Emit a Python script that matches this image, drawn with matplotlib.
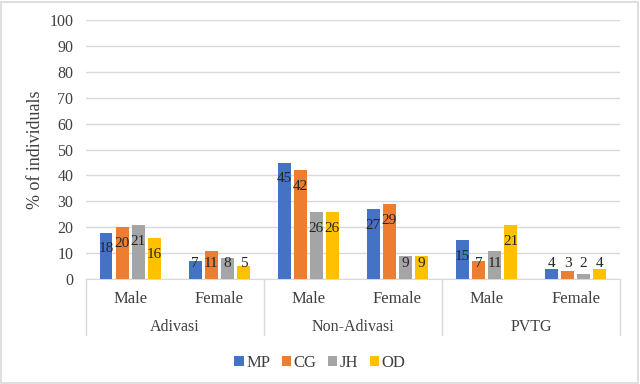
import matplotlib.pyplot as plt
from matplotlib.patches import Rectangle
import numpy as np

plt.rcParams['font.family'] = ['Liberation Serif', 'DejaVu Serif']

groups = ["Adivasi", "Non-Adivasi", "PVTG"]
sexes = ["Male", "Female"]
states = ["MP", "CG", "JH", "OD"]
colors = ["#4472c4", "#ed7d31", "#a5a5a5", "#ffc000"]

mp = [18, 7, 45, 27, 15, 4]
cg = [20, 11, 42, 29, 7, 3]
jh = [21, 8, 26, 9, 11, 2]
od = [16, 5, 26, 9, 21, 4]

##########################################
fig = plt.figure(figsize=(6.4, 3.84), dpi=100)
fig.patches.append(Rectangle((0.002, 0.003), 0.995, 0.993, transform=fig.transFigure,
                             fill=False, edgecolor="#d9d9d9", linewidth=1.2))
ax = fig.add_axes([0.134, 0.273, 0.835, 0.675])

x = np.arange(len(mp))
step = 0.18
width = 0.14
for i, (vals, c, name) in enumerate(zip([mp, cg, jh, od], colors, states)):
    xs = x + (i - 1.5) * step
    ax.bar(xs, vals, width, color=c, label=name, zorder=3)
    # labels sit just inside the bar end, but never lower than ~6
    for xi, v in zip(xs, vals):
        yy = max(v - 6.3, 6)
        ax.text(xi, yy, str(v), ha="center", va="center", fontsize=11,
                color="#262626", zorder=4)

ax.set_xlim(-0.5, len(mp) - 0.5)
ax.set_ylim(0, 100)
ax.set_yticks(range(0, 101, 10))
ax.tick_params(axis="y", length=0, labelsize=11.5, labelcolor="#404040", pad=9)
ax.set_xticks([])
ax.grid(axis="y", color="#d9d9d9", linewidth=1, zorder=0)
for s in ["left", "right", "top"]:
    ax.spines[s].set_visible(False)
ax.spines["bottom"].set_color("#d9d9d9")
ax.set_ylabel("% of individuals", fontsize=13, color="#404040", labelpad=4)

# two-level category axis
trans = ax.get_xaxis_transform()
for i in range(len(mp)):
    ax.text(x[i], -0.075, sexes[i % 2], transform=trans, ha="center", va="center",
            fontsize=12, color="#404040")
for g, name in enumerate(groups):
    ax.text(2 * g + 0.5, -0.183, name, transform=trans, ha="center", va="center",
            fontsize=11.5, color="#404040")
for b in [-0.5, 1.5, 3.5, 5.5]:
    ax.plot([b, b], [0, -0.215], transform=trans, color="#d9d9d9", linewidth=1,
            clip_on=False)

fig.legend(loc="lower center", bbox_to_anchor=(0.5, -0.005), ncol=4, frameon=False,
           fontsize=12, handlelength=0.55, handleheight=0.55, handletextpad=0.15,
           columnspacing=0.7, labelcolor="#404040")

fig.savefig("out.png", dpi=100)
